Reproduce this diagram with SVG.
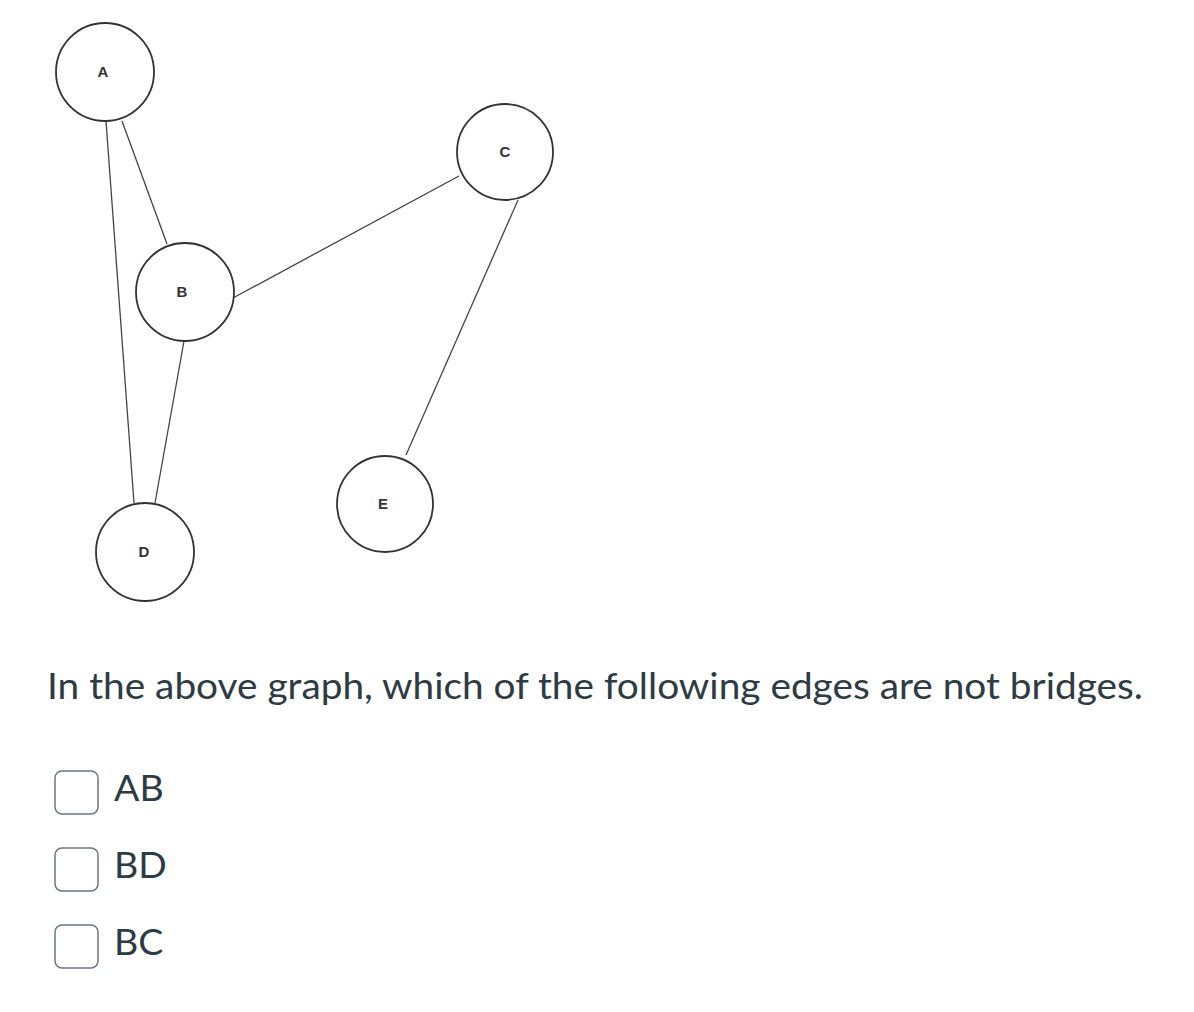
<svg xmlns="http://www.w3.org/2000/svg" width="1194" height="1012" viewBox="0 0 1194 1012">
<style>
.n{fill:#fff;stroke:#333;stroke-width:1.8}
.nl{font-family:"Liberation Sans",Arial,sans-serif;font-size:15px;font-weight:bold;fill:#333;text-anchor:middle}
.e{stroke:#444;stroke-width:1.3;fill:none}
.t{font-family:Lato,"Liberation Sans",sans-serif;font-size:37.5px;fill:#2d3b45}
.cb{fill:#fff;stroke:#6b7780;stroke-width:1.5}
</style>
<rect width="1194" height="1012" fill="#fff"/>
<g id="edges">
<line class="e" x1="122" y1="121" x2="167" y2="244"/>
<line class="e" x1="106" y1="121" x2="134" y2="503"/>
<line class="e" x1="233" y1="298" x2="459" y2="176"/>
<line class="e" x1="184" y1="341" x2="155" y2="503"/>
<line class="e" x1="518" y1="200" x2="406" y2="455"/>
</g>
<g id="A"><circle class="n" cx="105" cy="72" r="49"/><text class="nl" x="103" y="77">A</text></g>
<g id="C"><circle class="n" cx="505" cy="152" r="48"/><text class="nl" x="505" y="157">C</text></g>
<g id="B"><circle class="n" cx="185" cy="292" r="49"/><text class="nl" x="182" y="297">B</text></g>
<g id="E"><circle class="n" cx="385" cy="504" r="48"/><text class="nl" x="383" y="509">E</text></g>
<g id="D"><circle class="n" cx="145" cy="552" r="49"/><text class="nl" x="144" y="557">D</text></g>
<text class="t" x="47" y="699" textLength="1096" lengthAdjust="spacingAndGlyphs">In the above graph, which of the following edges are not bridges.</text>
<g id="opt1"><rect class="cb" x="55" y="771" width="43" height="43" rx="7"/><text class="t" x="114" y="801">AB</text></g>
<g id="opt2"><rect class="cb" x="55" y="848" width="43" height="43" rx="7"/><text class="t" x="114" y="878">BD</text></g>
<g id="opt3"><rect class="cb" x="55" y="925" width="43" height="43" rx="7"/><text class="t" x="114" y="955">BC</text></g>
</svg>
